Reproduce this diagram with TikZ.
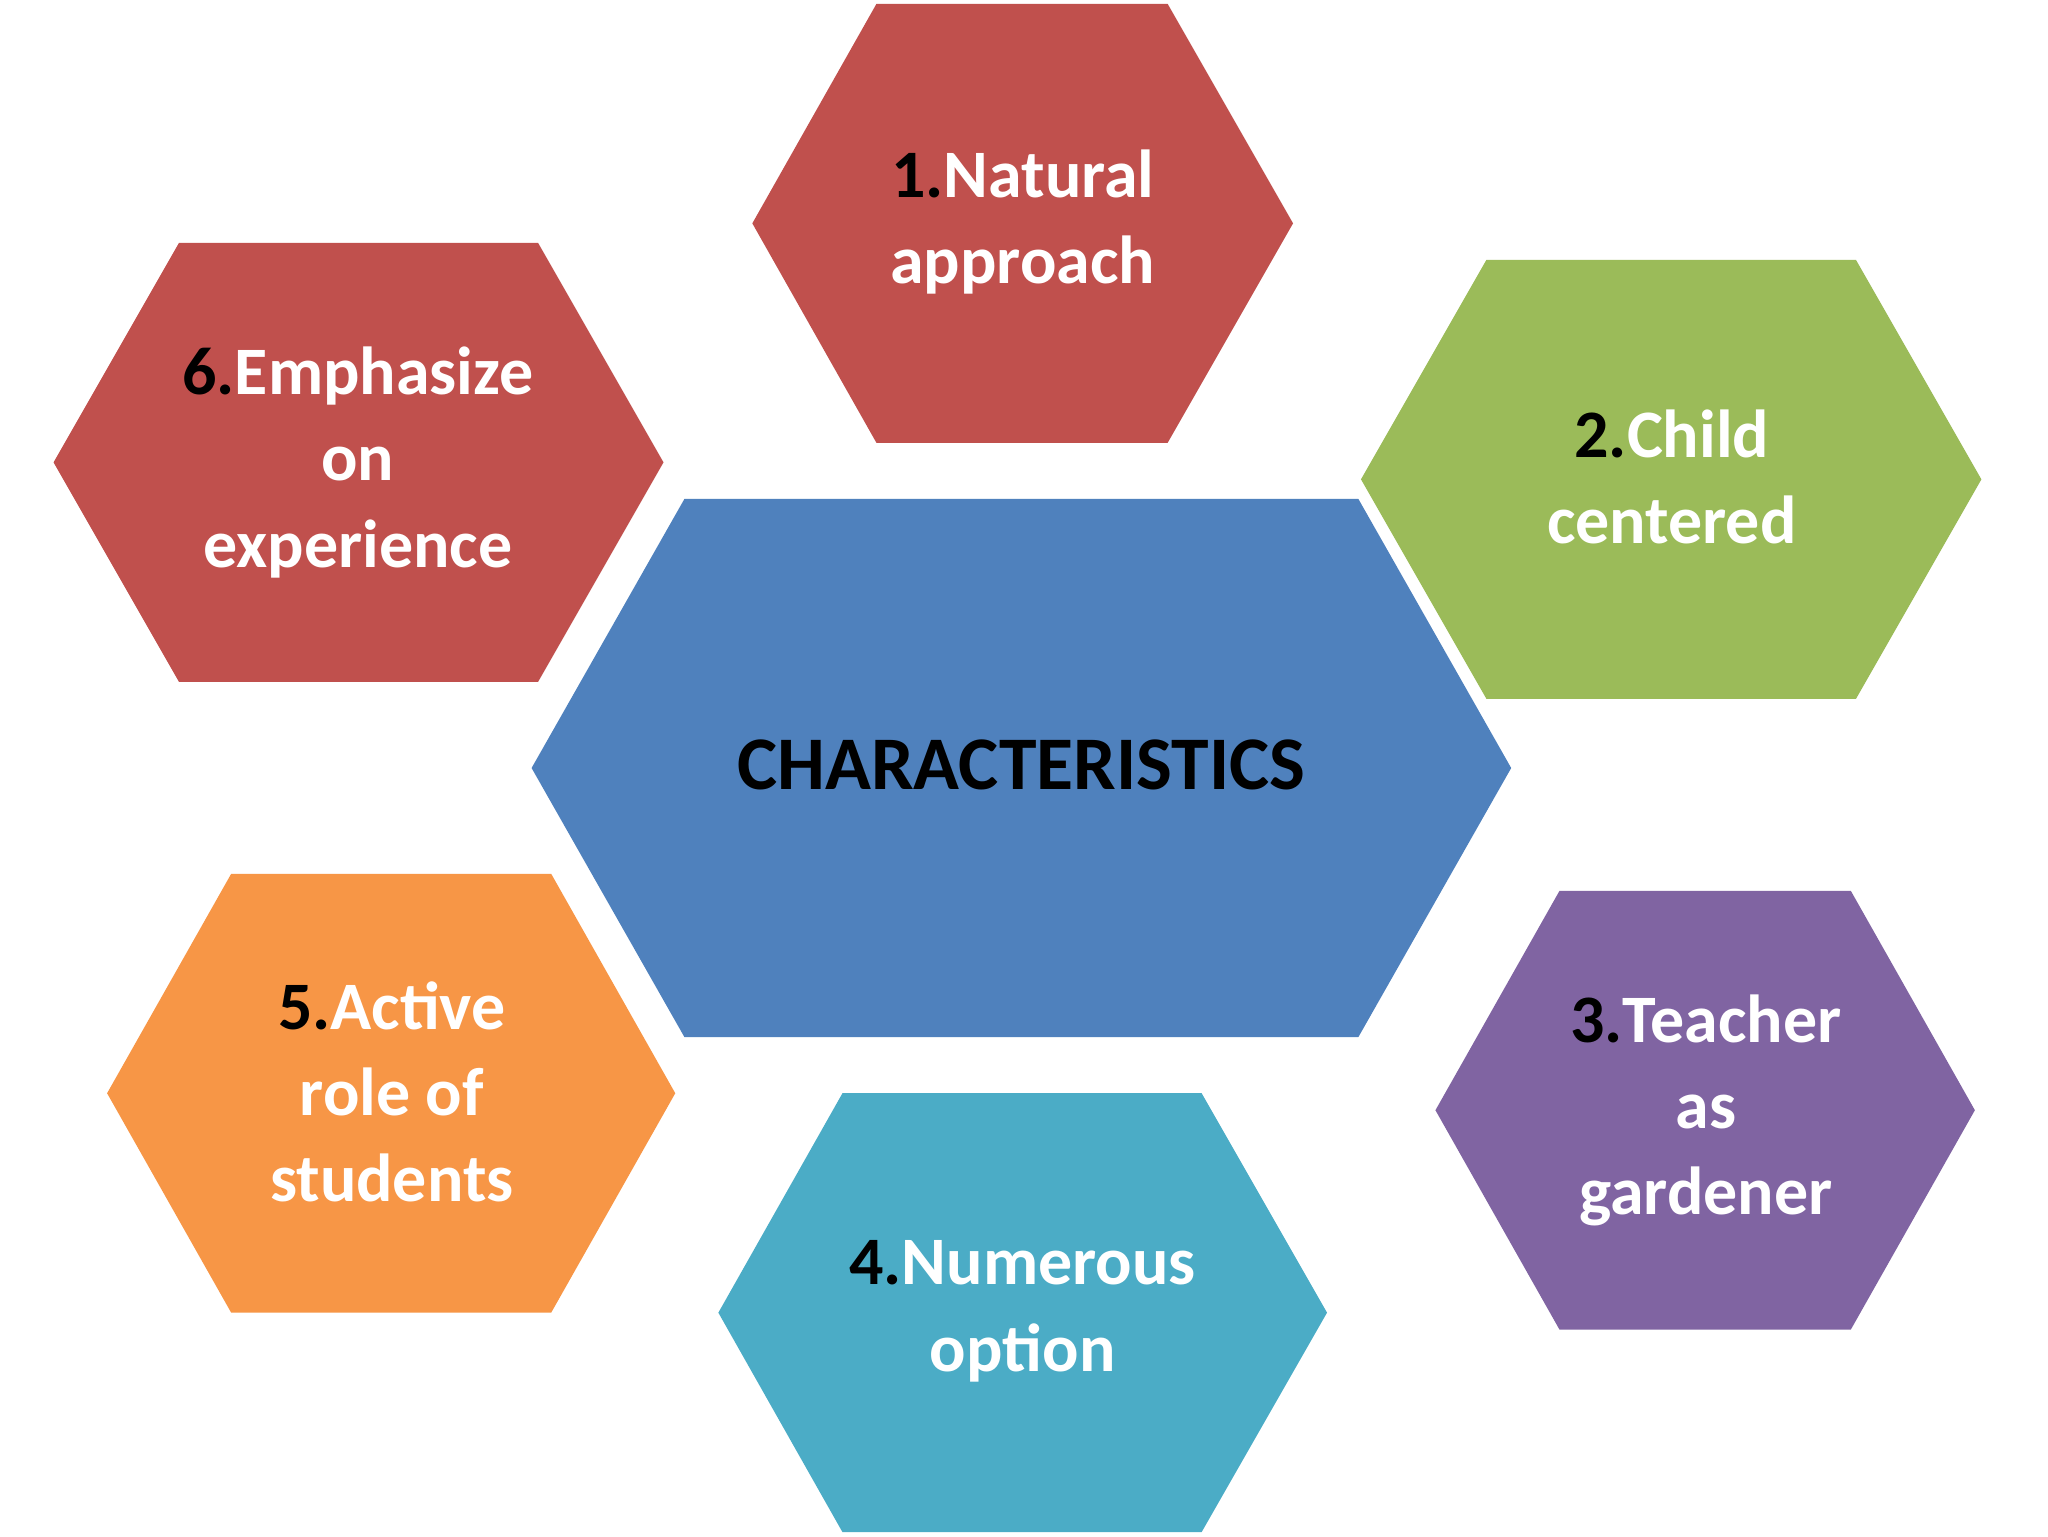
\documentclass[tikz,border=0pt]{standalone}
\usepackage{fontspec}
\setmainfont{Carlito}
\definecolor{cred}{HTML}{C0504D}
\definecolor{cgreen}{HTML}{9BBB59}
\definecolor{cblue}{HTML}{4F81BD}
\definecolor{corange}{HTML}{F79646}
\definecolor{cteal}{HTML}{4BACC6}
\definecolor{cpurple}{HTML}{8064A2}
\begin{document}
\begin{tikzpicture}[x=1pt,y=-1pt,
  lbl/.style={text=white,font=\fontsize{52}{66}\selectfont\bfseries,align=center},
  hex/.style={draw=white,line width=2pt}]
\useasboundingbox[fill=white] (0,0) rectangle (1568,1176);
\newcommand\hexa[7]{\fill[#7] (#1,#5) -- (#2,#5) -- (#4,{(#5+#6)/2}) -- (#2,#6) -- (#1,#6) -- (#3,{(#5+#6)/2}) -- cycle;}
\hexa{671}{894}{576}{990}{3}{339}{cred}
\hexa{137}{412}{41}{508}{186}{522}{cred}
\hexa{1138}{1421}{1042}{1517}{199}{535}{cgreen}
\hexa{524}{1040}{407}{1157}{382}{794}{cblue}
\hexa{177}{422}{82}{517}{669}{1005}{corange}
\hexa{645}{920}{550}{1016}{837}{1173}{cteal}
\hexa{1194}{1417}{1099}{1512}{682}{1018}{cpurple}
\node[lbl] (n1) at (783,170) {\textcolor{black}{1.}Natural\\approach};
\node[lbl] (n6) at (274,354) {\textcolor{black}{6.}Emphasize\\on\\experience};
\node[lbl] (n2) at (1280,365) {\textcolor{black}{2.}Child\\centered};
\node[lbl,text=black,font=\fontsize{58}{70}\selectfont\bfseries] (c) at (782,586) {CHARACTERISTICS};
\node[lbl] (n5) at (300,836) {\textcolor{black}{5.}Active\\role of\\students};
\node[lbl] (n4) at (783,1004) {\textcolor{black}{4.}Numerous\\option};
\node[lbl] (n3) at (1306,850) {\textcolor{black}{3.}Teacher\\as\\gardener};
\end{tikzpicture}
\end{document}
